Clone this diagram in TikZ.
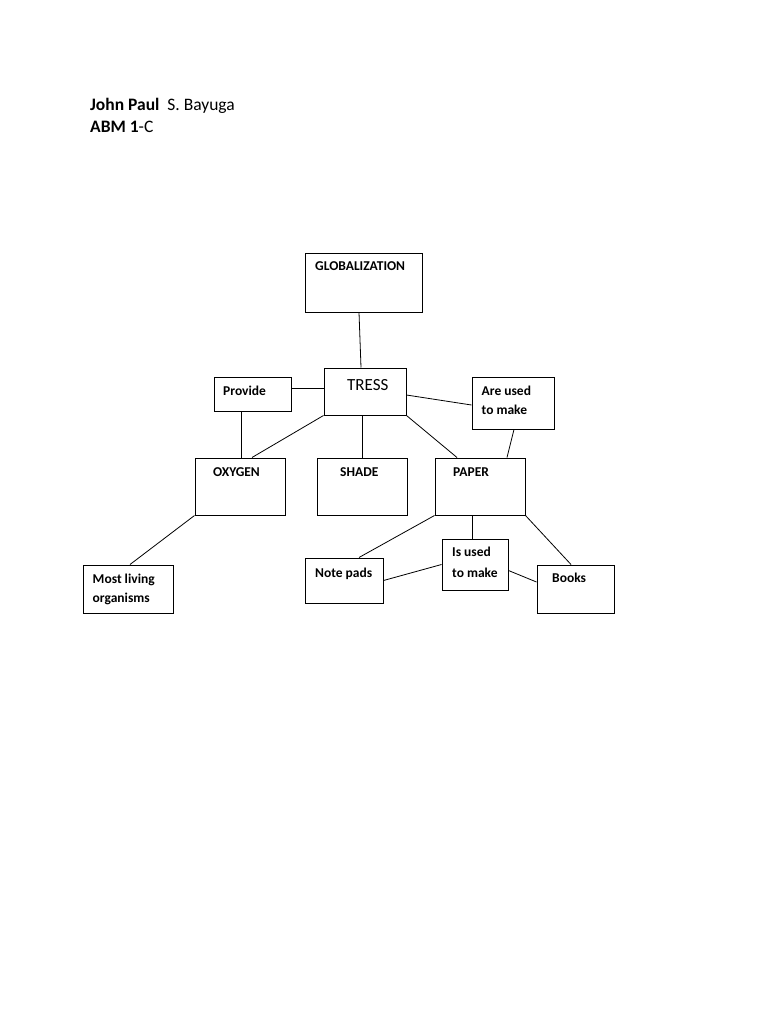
\documentclass[tikz,border=0pt]{standalone}
\usepackage{fontspec}
\setmainfont{Carlito}
\begin{document}
\begin{tikzpicture}[x=1pt,y=-1pt,
  box/.style={draw, line width=1pt, inner sep=0pt},
  lbl/.style={anchor=base west, inner sep=0pt, font=\fontsize{13.5}{16}\selectfont\bfseries},
  conn/.style={line width=0.8pt}]
\useasboundingbox[fill=white] (0,0) rectangle (768,1024);
% title
\node[anchor=base west, inner sep=0pt, font=\fontsize{17.5}{20}\selectfont] (name) at (90,111) {\textbf{John Paul}\ \ S. Bayuga};
\node[anchor=base west, inner sep=0pt, font=\fontsize{17.5}{20}\selectfont] (cls) at (90,133) {\textbf{ABM 1}-C};
% boxes
\node[box, minimum width=117pt, minimum height=59pt] (glob) at (363.5,282.5) {};
\node[box, minimum width=82pt, minimum height=47pt] (tress) at (365,391.5) {};
\node[box, minimum width=77pt, minimum height=34pt] (provide) at (252.5,394) {};
\node[box, minimum width=82pt, minimum height=52pt] (areused) at (513,403) {};
\node[box, minimum width=90pt, minimum height=57pt] (oxygen) at (240,486.5) {};
\node[box, minimum width=90pt, minimum height=57pt] (shade) at (362,486.5) {};
\node[box, minimum width=90pt, minimum height=57pt] (paper) at (480,486.5) {};
\node[box, minimum width=90pt, minimum height=48pt] (most) at (128,589) {};
\node[box, minimum width=78pt, minimum height=45pt] (notepads) at (344,580.5) {};
\node[box, minimum width=66pt, minimum height=51pt] (isused) at (475,564.5) {};
\node[box, minimum width=77pt, minimum height=48pt] (books) at (575.5,589) {};
% texts
\node[lbl] (tglob) at (315,270) {GLOBALIZATION};
\node[anchor=base west, inner sep=0pt, font=\fontsize{17}{20}\selectfont] (ttress) at (347,390) {TRESS};
\node[lbl] (tprovide) at (223,395) {Provide};
\node[lbl] (tare1) at (481.5,395) {Are used};
\node[lbl] (tare2) at (481.5,414) {to make};
\node[lbl] (toxy) at (213,476) {OXYGEN};
\node[lbl] (tshade) at (340,476) {SHADE};
\node[lbl] (tpaper) at (453,476) {PAPER};
\node[lbl] (tmost1) at (92.5,583) {Most living};
\node[lbl] (tmost2) at (92.5,602) {organisms};
\node[lbl] (tnote) at (315,577) {Note pads};
\node[lbl] (tis1) at (452,556.5) {Is used};
\node[lbl] (tis2) at (452,577) {to make};
\node[lbl] (tbooks) at (552,582) {Books};
% connectors
\draw[conn] ([xshift=-4.5pt]glob.south) -- ([xshift=-4pt]tress.north);
\draw[conn] ([yshift=6pt]provide.east) -- ([yshift=3.5pt]tress.west);
\draw[conn] ([xshift=-11.5pt]provide.south) -- ([xshift=1pt]oxygen.north);
\draw[conn] (tress.south west) -- ([xshift=12pt]oxygen.north);
\draw[conn] ([xshift=-3pt]tress.south) -- (shade.north);
\draw[conn] (tress.south east) -- ([xshift=-23pt]paper.north);
\draw[conn] ([yshift=-3.5pt]tress.east) -- ([yshift=-2pt]areused.west);
\draw[conn] ([xshift=1pt]areused.south) -- ([xshift=27pt]paper.north);
\draw[conn] (oxygen.south west) -- ([xshift=2pt]most.north);
\draw[conn] (paper.south west) -- ([xshift=15pt]notepads.north);
\draw[conn] ([xshift=-8pt]paper.south) -- ([xshift=-3pt]isused.north);
\draw[conn] (paper.south east) -- ([xshift=-4.5pt]books.north);
\draw[conn] (notepads.east) -- (isused.west);
\draw[conn] ([yshift=-6pt]isused.east) -- ([yshift=7pt]books.west);
\end{tikzpicture}
\end{document}
